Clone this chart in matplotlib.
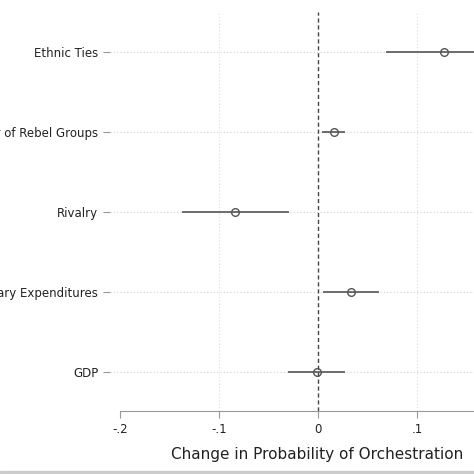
import matplotlib
matplotlib.use("Agg")
import matplotlib.pyplot as plt
from matplotlib.patches import Rectangle

labels = ["GDP", "Military Expenditures", "Rivalry", "Number of Rebel Groups", "Ethnic Ties"]
est = [-0.001, 0.033, -0.084, 0.016, 0.127]
lo = [-0.030, 0.005, -0.138, 0.004, 0.069]
hi = [0.027, 0.062, -0.029, 0.027, 0.190]
xticks = [-0.2, -0.1, 0, 0.1]
xticklabels = ["-.2", "-.1", "0", ".1"]

fig = plt.figure(figsize=(4.74, 4.74), dpi=100)
ax = fig.add_axes([110/474, 63/474, 1 - 110/474, (411-12)/474])
ys = list(range(1, len(labels) + 1))
for y in ys:
    ax.axhline(y, color="#cfcfcf", lw=0.8, ls=(0, (1, 2)), zorder=0)
for xv in [-0.1, 0.1]:
    ax.axvline(xv, color="#dcdcdc", lw=0.8, ls=(0, (1, 2)), zorder=0)
ax.axvline(0, color="#444444", lw=1.0, ls=(0, (3, 2)), zorder=1)
ax.hlines(ys, lo, hi, color="#555555", lw=1.2, zorder=2)
ax.plot(est, ys, "o", mfc="none", mec="#555555", ms=5.5, mew=1.0, zorder=3)
ax.set_yticks(ys)
ax.set_yticklabels(labels, fontsize=8.5, color="#222222")
ax.set_xticks(xticks)
ax.set_xticklabels(xticklabels, fontsize=8.5, color="#222222")
ax.set_xlim(-0.2103, 0.1575)
ax.set_ylim(0.51, 5.5)
ax.set_xlabel("Change in Probability of Orchestration", fontsize=11, color="#222222")
ax.xaxis.set_label_coords(0.57, -0.09)
for s in ["top", "right", "left"]:
    ax.spines[s].set_visible(False)
ax.spines["bottom"].set_bounds(-0.2, 0.3)
ax.spines["bottom"].set_color("#999999")
ax.tick_params(axis="x", color="#999999", length=5)
ax.tick_params(axis="y", color="#999999", length=5)
fig.patches.append(Rectangle((0, 0), 1, 3/474, transform=fig.transFigure, color="#cccccc"))
fig.savefig("out.png", dpi=100)
